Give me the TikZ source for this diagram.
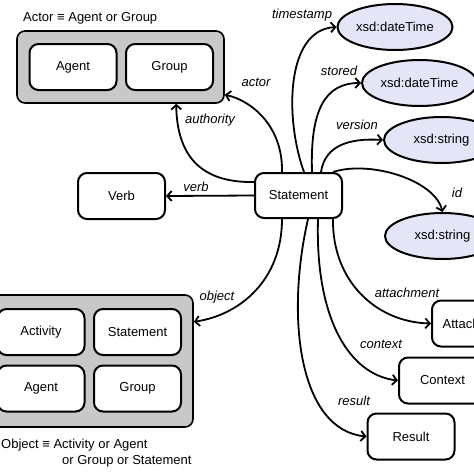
\documentclass[tikz,border=0pt]{standalone}
\usepackage{fontspec}
\setmainfont{Liberation Sans}
\usetikzlibrary{arrows.meta,shapes.geometric}
\definecolor{grpgray}{RGB}{200,200,200}
\definecolor{lav}{RGB}{229,229,248}
\tikzset{
  grpbox/.style={draw, line width=1.6pt, rounded corners=8pt, fill=grpgray, inner sep=0pt},
  rbox/.style={draw, line width=2pt, rounded corners=9pt, fill=white, minimum width=87pt, minimum height=46pt, inner sep=0pt, font=\fontsize{13}{15}\selectfont},
  oval/.style={draw, ellipse, line width=2pt, fill=lav, minimum width=115pt, minimum height=46pt, inner sep=0pt, font=\fontsize{13}{15}\selectfont},
  lbl/.style={font=\fontsize{13}{15}\selectfont\itshape, inner sep=0pt},
  captext/.style={font=\fontsize{13}{15}\selectfont, inner sep=0pt, anchor=west},
  arr/.style={line width=1.8pt, -{Straight Barb[length=4.5pt,width=10pt]}}
}
\begin{document}
\begin{tikzpicture}[x=1pt,y=-1pt]
\useasboundingbox (0,0) rectangle (474,474);
\clip (0,0) rectangle (474,474);
% actor group
\node[grpbox, minimum width=207pt, minimum height=72pt] (actorgrp) at (120.5,67) {};
\node[rbox] (agentA) at (73,67) {Agent};
\node[rbox] (groupA) at (169.5,67) {Group};
\node[captext] (actorlbl) at (23,18) {Actor ≡ Agent or Group};
% verb
\node[rbox] (verb) at (121.5,196) {Verb};
% statement
\node[rbox, minimum height=45pt] (stmt) at (298.5,195.5) {Statement};
% ellipses
\node[oval] (e1) at (395,27) {xsd:dateTime};
\node[oval] (e2) at (419.5,83) {xsd:dateTime};
\node[oval] (e3) at (441.5,140) {xsd:string};
\node[oval] (e4) at (442.5,236) {xsd:string};
% right boxes
\node[rbox] (att) at (475.5,323.5) {Attachment};
\node[rbox] (ctx) at (442.5,380.5) {Context};
\node[rbox] (res) at (411,436.5) {Result};
% object group
\node[grpbox, minimum width=206pt, minimum height=132pt] (objgrp) at (90,361) {};
\node[rbox] (activity) at (41,332) {Activity};
\node[rbox] (ostmt) at (137.5,332) {Statement};
\node[rbox] (oagent) at (41,388.5) {Agent};
\node[rbox] (ogroup) at (137.5,388.5) {Group};
\node[captext] (objlbl1) at (1,445) {Object ≡ Activity or Agent};
\node[captext] (objlbl2) at (62,461) {or Group or Statement};
% connectors
\draw[arr] ([xshift=28pt]stmt.north west) .. controls (283,125) and (250,100) .. ([yshift=9pt]actorgrp.south east);
\draw[arr] ([yshift=-10pt]stmt.north west) .. controls (200,183) and (177,155) .. ([xshift=160pt]actorgrp.south west);
\draw[arr] (stmt.west) -- (verb.east);
\draw[arr] ([xshift=28pt]stmt.south west) .. controls (282,280) and (240,315) .. ([yshift=106pt]objgrp.south east);
\draw[arr] ([xshift=50pt]stmt.north west) .. controls (285,120) and (285,30) .. (e1.west);
\draw[arr] ([xshift=58pt]stmt.north west) .. controls (310,110) and (325,83) .. (e2.west);
\draw[arr] ([xshift=67pt]stmt.north west) .. controls (325,145) and (350,138) .. (e3.west);
\draw[arr] ([xshift=-10pt]stmt.north east) .. controls (370,160) and (435,180) .. (e4.north);
\draw[arr] ([xshift=-10pt]stmt.south east) .. controls (332,280) and (375,322) .. (att.west);
\draw[arr] ([xshift=-25pt]stmt.south east) .. controls (315,320) and (350,375) .. (ctx.west);
\draw[arr] ([xshift=-35pt]stmt.south east) .. controls (285,320) and (300,430) .. (res.west);
% labels
\node[lbl] (lactor) at (256,82) {actor};
\node[lbl] (lauth) at (210,120) {authority};
\node[lbl] (lverb) at (196,187) {verb};
\node[lbl] (lobj) at (217,297) {object};
\node[lbl] (lts) at (302,15) {timestamp};
\node[lbl] (lstored) at (339,71) {stored};
\node[lbl] (lversion) at (357,125) {version};
\node[lbl] (lid) at (457,193) {id};
\node[lbl] (latt) at (407,293) {attachment};
\node[lbl] (lctx) at (381,344) {context};
\node[lbl] (lres) at (354,401) {result};
\end{tikzpicture}
\end{document}
